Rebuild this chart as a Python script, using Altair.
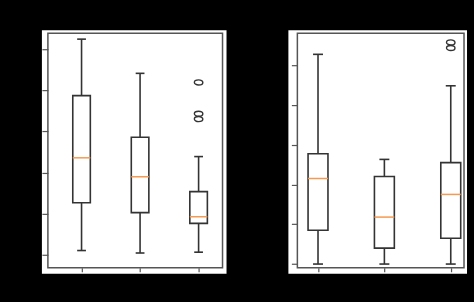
import altair as alt
import pandas as pd

POSITIONS = [1, 2, 3]
Y_TICKS = [0, 1, 2, 3, 4, 5]

# left panel: five-number summaries per box
L_LOW = [0.11, 0.05, 0.07]
L_Q1 = [1.27, 1.03, 0.77]
L_MED = [2.36, 1.90, 0.93]
L_Q3 = [3.87, 2.86, 1.54]
L_HIGH = [5.24, 4.41, 2.39]
L_FLIER_POS = [3, 3, 3]
L_FLIER_VAL = [4.19, 3.43, 3.30]
L_XLIM = [0.425, 3.409]
L_YLIM = [-0.308, 5.383]

# right panel
R_LOW = [0.0, 0.0, 0.0]
R_Q1 = [0.85, 0.40, 0.65]
R_MED = [2.15, 1.18, 1.75]
R_Q3 = [2.77, 2.20, 2.55]
R_HIGH = [5.27, 2.63, 4.48]
R_FLIER_POS = [3, 3]
R_FLIER_VAL = [5.57, 5.43]
R_XLIM = [0.689, 3.2]
R_YLIM = [-0.093, 5.80]

EDGE = "#333333"
FRAME = "#555555"
MEDIAN = "#f59a50"
# flattened circle used for the outlier markers
OVAL = "M-1,0 A1,0.6 0 1,0 1,0 A1,0.6 0 1,0 -1,0 Z"


def panel(low, q1, med, q3, high, fpos, fval, xlim, ylim, w, h, margin):
    stats = pd.DataFrame({"pos": POSITIONS, "low": low, "q1": q1, "med": med,
                          "q3": q3, "high": high})
    fliers = pd.DataFrame({"pos": fpos, "val": fval})
    one = pd.DataFrame({"k": [0]})

    xs = alt.Scale(domain=xlim, nice=False, zero=False)
    ys = alt.Scale(domain=ylim, nice=False, zero=False)
    x_axis = alt.Axis(values=POSITIONS, labels=False, tickSize=4, tickColor=FRAME,
                      tickWidth=1.2, domain=False, grid=False, title=None, zindex=2)
    y_axis = alt.Axis(values=Y_TICKS, labels=False, tickSize=6, tickColor=FRAME,
                      tickWidth=1.2, domain=False, grid=False, title=None, zindex=2)

    left, right, top, bottom = margin
    backdrop = alt.Chart(one).mark_rect(fill="white").encode(
        x=alt.value(-left), x2=alt.value(w + right),
        y=alt.value(-top), y2=alt.value(h + bottom))

    base = alt.Chart(stats).transform_calculate(
        l="datum.pos - 0.15", r="datum.pos + 0.15",
        cl="datum.pos - 0.075", cr="datum.pos + 0.075")

    whisker = base.mark_rule(color=EDGE, strokeWidth=1.6).encode(
        x=alt.X("pos:Q", scale=xs, axis=x_axis),
        y=alt.Y("low:Q", scale=ys, axis=y_axis),
        y2="high:Q")
    cap_lo = base.mark_rule(color=EDGE, strokeWidth=1.6).encode(
        x=alt.X("cl:Q", scale=xs), x2="cr:Q", y=alt.Y("low:Q", scale=ys))
    cap_hi = base.mark_rule(color=EDGE, strokeWidth=1.6).encode(
        x=alt.X("cl:Q", scale=xs), x2="cr:Q", y=alt.Y("high:Q", scale=ys))
    box = base.mark_rect(fill="white", stroke=EDGE, strokeWidth=1.6).encode(
        x=alt.X("l:Q", scale=xs), x2="r:Q",
        y=alt.Y("q1:Q", scale=ys), y2="q3:Q")
    median = base.mark_rule(color=MEDIAN, strokeWidth=1.5).encode(
        x=alt.X("l:Q", scale=xs), x2="r:Q", y=alt.Y("med:Q", scale=ys))
    flier = alt.Chart(fliers).mark_point(
        shape=OVAL, filled=False, color=EDGE, strokeWidth=1.4, size=72, opacity=1
    ).encode(x=alt.X("pos:Q", scale=xs), y=alt.Y("val:Q", scale=ys))
    frame = alt.Chart(one).mark_rect(fill=None, stroke=FRAME, strokeWidth=1.5).encode(
        x=alt.value(0), x2=alt.value(w), y=alt.value(0), y2=alt.value(h))

    return alt.layer(backdrop, whisker, cap_lo, cap_hi, box, median, flier, frame).properties(
        width=w, height=h)


p1 = panel(L_LOW, L_Q1, L_MED, L_Q3, L_HIGH, L_FLIER_POS, L_FLIER_VAL,
           L_XLIM, L_YLIM, 175, 235, (6, 4, 3, 6))
p2 = panel(R_LOW, R_Q1, R_MED, R_Q3, R_HIGH, R_FLIER_POS, R_FLIER_VAL,
           R_XLIM, R_YLIM, 167, 235, (9, 3, 3, 6))

chart = alt.hconcat(p1, p2, spacing=75, bounds="flush").configure(
    background="black",
    padding={"left": 41, "top": 30, "right": 7, "bottom": 28},
).configure_view(stroke=None)

chart.save("out.html", embed_options={"renderer": "svg", "actions": False})
